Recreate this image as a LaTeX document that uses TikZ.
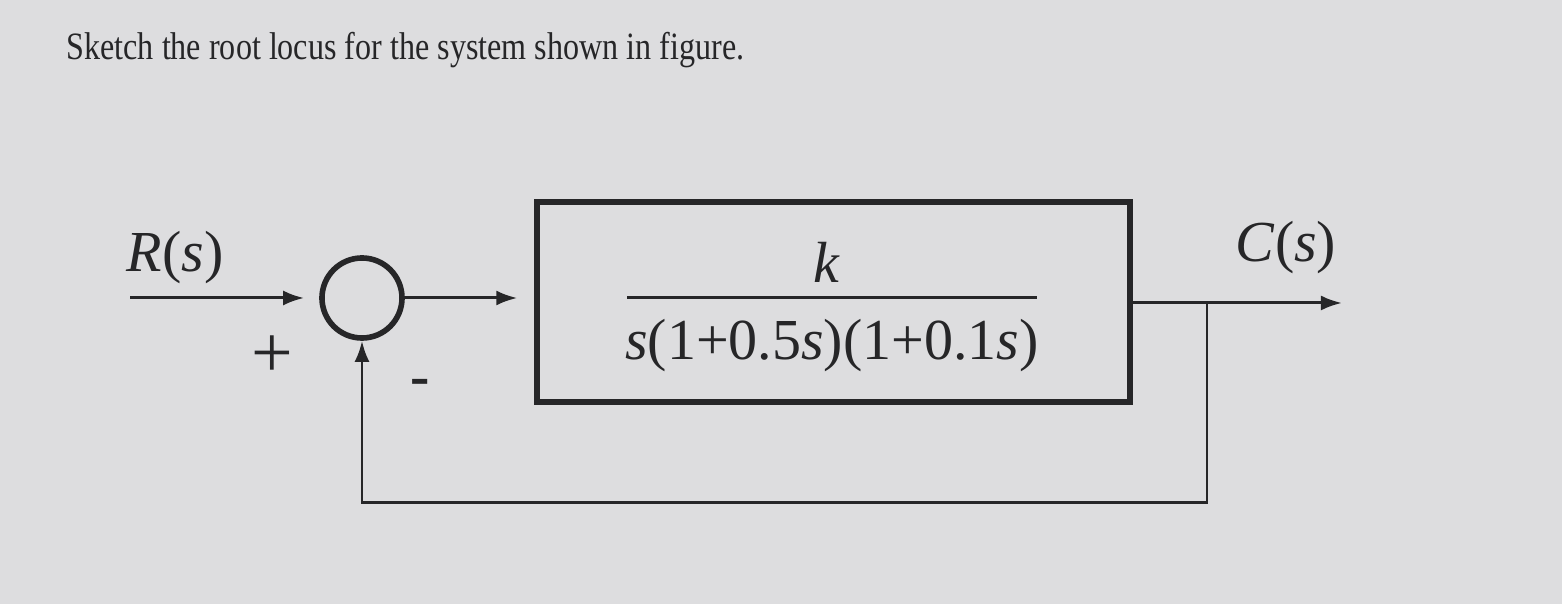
\documentclass[tikz,border=0pt]{standalone}
\usepackage{fontspec}
\setmainfont{Liberation Serif}
\usetikzlibrary{arrows.meta,positioning,calc}
\definecolor{paper}{RGB}{221,221,223}
\definecolor{ink}{RGB}{38,38,40}

\begin{document}
\begin{tikzpicture}[x=0.01cm,y=-0.01cm,
    sig/.style={line width=0.85pt, draw=ink, -{Latex[length=0.21cm,width=0.15cm]}},
    wire/.style={line width=0.85pt, draw=ink},
    lbl/.style={font=\fontsize{16.5}{19}\selectfont, text=ink, inner sep=0pt}]
% 背景与边界
\fill[paper] (0,0) rectangle (1562,604);
\useasboundingbox (0,0) rectangle (1562,604);

% 题目
\node[anchor=base west, inner sep=0pt, text=ink, xscale=0.83, font=\fontsize{11}{13}\selectfont] (title) at (66,60)
    {Sketch the root locus for the system shown in figure.};

% 比较点和方框
\node[circle, draw=ink, line width=1.6pt, minimum size=0.8cm, inner sep=0pt] (sum) at (362,298) {};
\node[draw=ink, line width=1.7pt, minimum width=5.92cm, minimum height=1.99cm] (plant) at (833.5,302) {};

% 传递函数
\node[lbl] (num) at (827,262) {\textit{k}};
\node[lbl] (den) at (832,346) {\textit{s}(1+0.5\textit{s})(1+0.1\textit{s})};
\draw[wire] (627,298) -- (1037,298);

% 信号线
\coordinate (rin) at (130,298);
\coordinate (cout) at (1342,303);
\coordinate (branch) at (1207,303);
\coordinate (fbcorner) at (1207,503);
\draw[sig, shorten >=0.15cm] (rin) -- (sum.west);
\draw[sig, shorten >=0.17cm] (sum.east) -- (sum.east -| plant.west);
\draw[sig] (plant.east |- cout) -- (cout);
\draw[sig] (branch) -- (fbcorner) -| (sum.south);

% 标注
\node[lbl] (rlabel) at (175,258) {\textit{R}(\textit{s})};
\node[lbl] (clabel) at (1286,248) {\textit{C}(\textit{s})};
\node[lbl, font=\fontsize{21}{24}\selectfont] (plus) at (272,357) {+};
\node[lbl, font=\fontsize{16.5}{19}\bfseries] (minus) at (420,387) {-};
\end{tikzpicture}
\end{document}
